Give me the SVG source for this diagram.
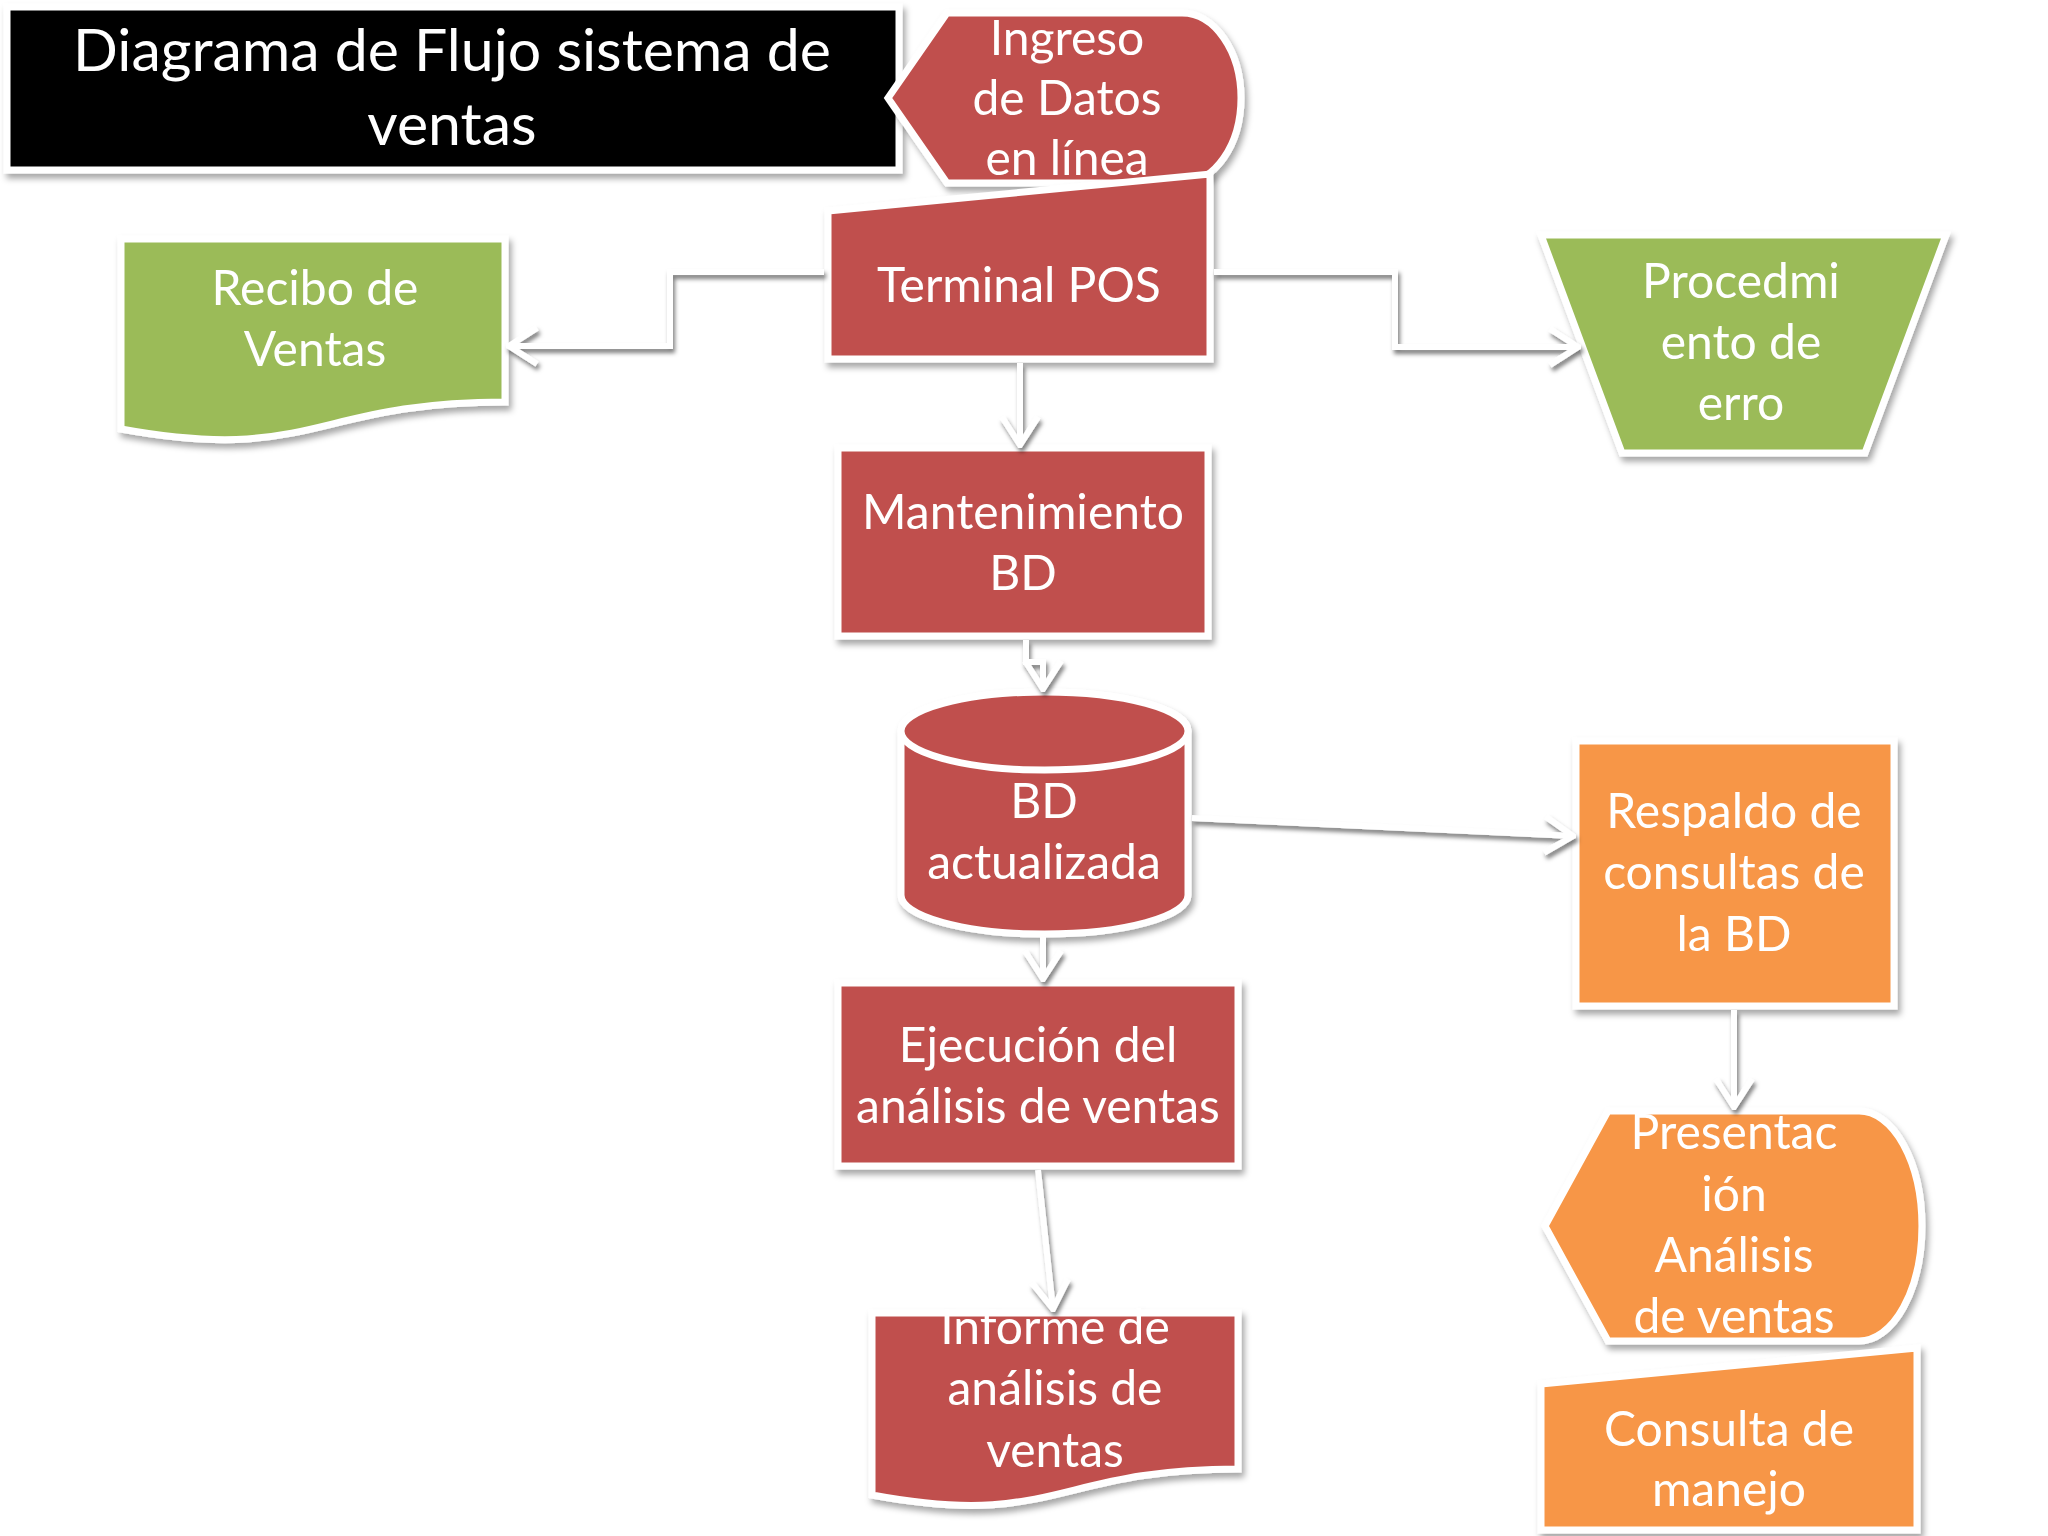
<svg xmlns="http://www.w3.org/2000/svg" width="2048" height="1536" viewBox="0 0 2048 1536">
<defs>
<filter id="sh" x="-10%" y="-10%" width="130%" height="130%">
<feDropShadow dx="3" dy="5" stdDeviation="3" flood-color="#000" flood-opacity="0.35"/>
</filter>
<filter id="csh" x="-20%" y="-20%" width="140%" height="140%">
<feDropShadow dx="2" dy="4" stdDeviation="2" flood-color="#000" flood-opacity="0.5"/>
</filter>
<marker id="arr" viewBox="0 0 34 42" refX="31" refY="21" markerWidth="34" markerHeight="42" markerUnits="userSpaceOnUse" orient="auto">
<path d="M3,3 L31,21 L3,39" fill="none" stroke="#fff" stroke-width="6" stroke-linejoin="miter"/>
</marker>
</defs>
<style>
.red{fill:#C0504D;stroke:#fff;stroke-width:7;stroke-linejoin:miter}
.grn{fill:#9BBB59;stroke:#fff;stroke-width:7;stroke-linejoin:miter}
.org{fill:#F79646;stroke:#fff;stroke-width:7;stroke-linejoin:miter}
.blk{fill:#000;stroke:#fff;stroke-width:7}
.t{font-family:Lato,"Liberation Sans",sans-serif;font-size:48px;fill:#fff;text-anchor:middle}
.tt{font-family:Lato,"Liberation Sans",sans-serif;font-size:59px;fill:#fff;text-anchor:middle}
.c{fill:none;stroke:#fff;stroke-width:6;marker-end:url(#arr)}
</style>
<rect width="2048" height="1536" fill="#fff"/>

<g id="title" filter="url(#sh)">
<rect class="blk" x="7" y="7" width="892" height="163"/>
<text class="tt" x="452" y="71">Diagrama de Flujo sistema de</text>
<text class="tt" x="452" y="145">ventas</text>
</g>

<g id="ingreso" filter="url(#sh)">
<path class="red" d="M888,98 L947,13 L1182,13 A59,85 0 0 1 1182,183 L947,183 Z"/>
<text class="t" x="1067" y="55">Ingreso</text>
<text class="t" x="1067" y="115">de Datos</text>
<text class="t" x="1067" y="175">en línea</text>
</g>

<g id="terminal" filter="url(#sh)">
<path class="red" d="M828,211 L1210,174 L1210,359 L828,359 Z"/>
<text class="t" x="1019" y="302">Terminal POS</text>
</g>

<g id="recibo" filter="url(#sh)">
<path class="grn" d="M121,239 L505,239 L505,402 C313,402 313,464 121,429 Z"/>
<text class="t" x="315" y="305">Recibo de</text>
<text class="t" x="315" y="366">Ventas</text>
</g>

<g id="procedimiento" filter="url(#sh)">
<path class="grn" d="M1541,235 L1946,235 L1865,453 L1622,453 Z"/>
<text class="t" x="1741" y="298">Procedmi</text>
<text class="t" x="1741" y="359">ento de</text>
<text class="t" x="1741" y="420">erro</text>
</g>

<g id="mantenimiento" filter="url(#sh)">
<rect class="red" x="838" y="448" width="370" height="188"/>
<text class="t" x="1023" y="529">Mantenimiento</text>
<text class="t" x="1023" y="590">BD</text>
</g>

<g id="bd" filter="url(#sh)">
<path class="red" d="M901,731 A143.5,39 0 0 1 1188,731 L1188,895 A143.5,39 0 0 1 901,895 Z"/>
<ellipse class="red" cx="1044.5" cy="731" rx="143.5" ry="39"/>
<text class="t" x="1044" y="818">BD</text>
<text class="t" x="1044" y="879">actualizada</text>
</g>

<g id="respaldo" filter="url(#sh)">
<rect class="org" x="1576" y="741" width="318" height="265"/>
<text class="t" x="1734" y="828">Respaldo de</text>
<text class="t" x="1734" y="889">consultas de</text>
<text class="t" x="1734" y="951">la BD</text>
</g>

<g id="ejecucion" filter="url(#sh)">
<rect class="red" x="838" y="983" width="400" height="183"/>
<text class="t" x="1038" y="1062">Ejecución del</text>
<text class="t" x="1038" y="1123">análisis de ventas</text>
</g>

<g id="informe" filter="url(#sh)">
<path class="red" d="M872,1313 L1238,1313 L1238,1469 C1055,1469 1055,1529 872,1495 Z"/>
<text class="t" x="1055" y="1344">Informe de</text>
<text class="t" x="1055" y="1405">análisis de</text>
<text class="t" x="1055" y="1467">ventas</text>
</g>

<g id="presentacion" filter="url(#sh)">
<path class="org" d="M1545,1226 L1608,1111 L1859,1111 A63,115 0 0 1 1859,1341 L1608,1341 Z"/>
<text class="t" x="1734" y="1149">Presentac</text>
<text class="t" x="1734" y="1211">ión</text>
<text class="t" x="1734" y="1272">Análisis</text>
<text class="t" x="1734" y="1333">de ventas</text>
</g>

<g id="consulta" filter="url(#sh)">
<path class="org" d="M1541,1384 L1917,1348 L1917,1530 L1541,1530 Z"/>
<text class="t" x="1729" y="1446">Consulta de</text>
<text class="t" x="1729" y="1506">manejo</text>
</g>

<g id="connectors" filter="url(#csh)">
<path class="c" d="M1020,363 V445"/>
<path class="c" d="M1026,640 V662 H1043 V689"/>
<path class="c" d="M1043,937 V979"/>
<path class="c" d="M1192,818 L1573,836"/>
<path class="c" d="M1734,1010 V1107"/>
<path class="c" d="M1038,1170 L1053,1309"/>
<path class="c" d="M824,272 H670 V346 H509"/>
<path class="c" d="M1214,272 H1395 V347 H1578"/>
</g>
</svg>
